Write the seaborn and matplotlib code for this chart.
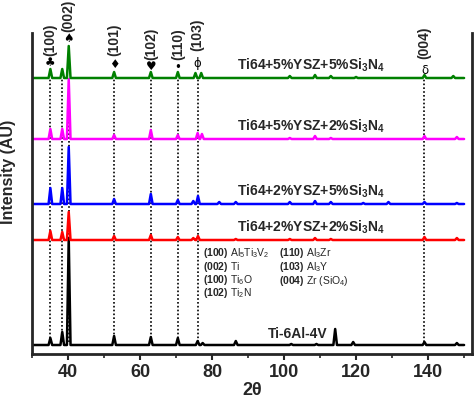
"""
XRD patterns of Ti-6Al-4V and the YSZ / Si3N4 reinforced composites,
stacked with vertical offsets and indexed peaks.
"""

import numpy as np
import pandas as pd
import matplotlib
matplotlib.use("Agg")
import matplotlib.pyplot as plt
from matplotlib.ticker import MultipleLocator
import seaborn as sns


# ========== DATA ========== #

SAMPLES = [
    "Ti-6Al-4V",
    "Ti64+2%YSZ+2%Si3N4",
    "Ti64+2%YSZ+5%Si3N4",
    "Ti64+5%YSZ+2%Si3N4",
    "Ti64+5%YSZ+5%Si3N4",
]
COLORS = ["#000000", "#ff0000", "#0000ff", "#ff00ff", "#008000"]
OFFSETS = [9, 114, 150, 215, 276]

# peak positions (2theta) and heights (AU)
BLACK_POS = [35.1, 38.4, 40.2, 52.8, 63.0, 70.5, 76.0, 77.4, 86.6, 102.0, 109.0, 114.2, 119.2, 139.0, 148.0]
BLACK_INT = [7, 13, 107, 9, 8, 7, 4, 2, 4, 1, 1, 16, 3, 3, 2]

RED_POS = [35.1, 38.4, 40.2, 52.8, 63.0, 70.5, 74.8, 76.1, 86.6, 101.6, 108.6, 113.0, 139.0, 148.0]
RED_INT = [9, 8, 28, 4, 5, 3, 2, 4, 1, 1, 2, 1, 3, 2]

BLUE_POS = [35.1, 38.4, 40.2, 52.8, 63.0, 70.5, 74.8, 76.1, 82.0, 86.6, 101.6, 108.6, 113.0, 122.0, 129.0, 139.0, 148.0]
BLUE_INT = [16, 16, 57, 5, 10, 4, 3, 8, 2, 2, 2, 3, 2, 1, 2, 2, 1]

MAGENTA_POS = [35.1, 38.4, 40.2, 52.8, 63.0, 70.5, 76.0, 77.2, 101.6, 108.6, 113.0, 139.0, 148.0]
MAGENTA_INT = [10, 10, 60, 4, 9, 4, 6, 5, 1, 3, 1, 3, 2]

GREEN_POS = [35.1, 38.4, 40.2, 52.8, 63.0, 70.5, 75.4, 77.0, 101.6, 108.6, 113.0, 120.0, 139.0, 147.0]
GREEN_INT = [9, 9, 32, 6, 6, 6, 5, 5, 2, 3, 2, 1, 3, 2]

PEAK_SETS = [
    (BLACK_POS, BLACK_INT),
    (RED_POS, RED_INT),
    (BLUE_POS, BLUE_INT),
    (MAGENTA_POS, MAGENTA_INT),
    (GREEN_POS, GREEN_INT),
]

# indexed reflections (dotted guide lines)
REFL_POS = [35.1, 38.4, 40.2, 52.8, 63.0, 70.5, 76.0, 139.0]
REFL_HKL = ["(100)", None, "(002)", "(101)", "(102)", "(110)", "(103)", "(004)"]
REFL_SYM = ["\u2663", None, "\u2660", "\u2666", "\u2665", "\u2022", "\u03d5", "\u03b4"]
REFL_SYM_Y = [291, None, 315, 290, 288, 287, 291, 283]
REFL_TXT_Y = [298, None, 322, 298, 294, 294, 303, 295]

SERIES_LABELS = [
    "Ti-6Al-4V",
    r"Ti64+2%YSZ+2%Si$_\mathbf{3}$N$_\mathbf{4}$",
    r"Ti64+2%YSZ+5%Si$_\mathbf{3}$N$_\mathbf{4}$",
    r"Ti64+5%YSZ+2%Si$_\mathbf{3}$N$_\mathbf{4}$",
    r"Ti64+5%YSZ+5%Si$_\mathbf{3}$N$_\mathbf{4}$",
]
LABEL_X = [95.4, 86.9, 86.9, 86.9, 86.9]

PHASES_COL1 = [
    r"$\mathbf{(100)}$ Al$_5$Ti$_3$V$_2$",
    r"$\mathbf{(002)}$ Ti",
    r"$\mathbf{(100)}$ Ti$_6$O",
    r"$\mathbf{(102)}$ Ti$_2$N",
]
PHASES_COL2 = [
    r"$\mathbf{(110)}$ Al$_3$Zr",
    r"$\mathbf{(103)}$ Al$_3$Y",
    r"$\mathbf{(004)}$ Zr (SiO$_4$)",
]


# ========== HELPERS ========== #

def build_pattern(positions, heights, offset, half_width=0.5):
    """Flat baseline with a narrow triangular peak at each reading."""
    xs, ys = [30.0], [offset]
    for p, h in zip(positions, heights):
        xs += [p - half_width, p, p + half_width]
        ys += [offset, offset + h, offset]
    xs.append(150.0)
    ys.append(offset)
    return xs, ys


def make_frame():
    rows = []
    for name, off, (pos, inten) in zip(SAMPLES, OFFSETS, PEAK_SETS):
        xs, ys = build_pattern(pos, inten, off)
        rows.append(pd.DataFrame({"two_theta": xs, "intensity": ys, "sample": name}))
    return pd.concat(rows, ignore_index=True)


# ========== PLOT ========== #

def main():
    sns.set_style("ticks")
    plt.rcParams["font.family"] = ["Liberation Sans", "DejaVu Sans"]
    plt.rcParams["mathtext.fontset"] = "custom"
    plt.rcParams["mathtext.rm"] = "Liberation Sans"
    plt.rcParams["mathtext.bf"] = "Liberation Sans:bold"
    plt.rcParams["mathtext.it"] = "Liberation Sans:italic"

    df = make_frame()

    fig = plt.figure(figsize=(4.74, 3.98), dpi=100)
    ax = fig.add_axes([32 / 474, 44 / 398, 440 / 474, 321 / 398])

    # dotted guide lines behind the patterns
    for x in REFL_POS:
        ax.vlines(x, 12, OFFSETS[-1], colors="black", linestyles=(0, (1.0, 1.3)),
                  linewidth=1.2, zorder=1)

    sns.lineplot(data=df, x="two_theta", y="intensity", hue="sample",
                 hue_order=SAMPLES, palette=dict(zip(SAMPLES, COLORS)),
                 estimator=None, sort=False, legend=False, linewidth=1.8,
                 ax=ax, zorder=2)

    # reflection symbols and (hkl)
    for x, hkl, sym, sy, ty in zip(REFL_POS, REFL_HKL, REFL_SYM, REFL_SYM_Y, REFL_TXT_Y):
        if hkl is None:
            continue
        ax.text(x, sy, sym, ha="center", va="center", fontsize=8.5,
                family=["DejaVu Sans"], color="black")
        ax.text(x, ty, hkl, rotation=90, ha="center", va="bottom",
                fontsize=10, fontweight="bold", clip_on=False)

    # series labels
    for lx, off, lab in zip(LABEL_X, OFFSETS, SERIES_LABELS):
        ax.text(lx, off + 4, lab, ha="left", va="bottom", fontsize=10,
                fontweight="bold")

    # phase key
    for i, t in enumerate(PHASES_COL1):
        ax.text(77.4, 101 - i * 13.5, t, ha="left", va="center", fontsize=7.5)
    for i, t in enumerate(PHASES_COL2):
        ax.text(98.6, 101 - i * 14, t, ha="left", va="center", fontsize=7.5)

    ax.set_xlim(30, 152.2)
    ax.set_ylim(0, 321)
    ax.xaxis.set_minor_locator(MultipleLocator(10))
    ax.set_xticks([40, 60, 80, 100, 120, 140])
    ax.set_yticks([])
    ax.tick_params(axis="x", which="major", length=4, width=1.5, labelsize=13, pad=3)
    ax.tick_params(axis="x", which="minor", length=3, width=1.2)
    for lab in ax.get_xticklabels():
        lab.set_fontweight("bold")

    ax.spines["top"].set_visible(False)
    for side in ["left", "right", "bottom"]:
        ax.spines[side].set_linewidth(2.0)

    ax.set_xlabel("2\u03b8", fontsize=13, fontweight="bold", labelpad=1)
    ax.set_ylabel("Intensity (AU)", fontsize=11.5, fontweight="bold")
    ax.yaxis.set_label_coords(-0.036, 0.567)

    fig.savefig("out.png", dpi=100)
    plt.close(fig)


if __name__ == "__main__":
    main()
